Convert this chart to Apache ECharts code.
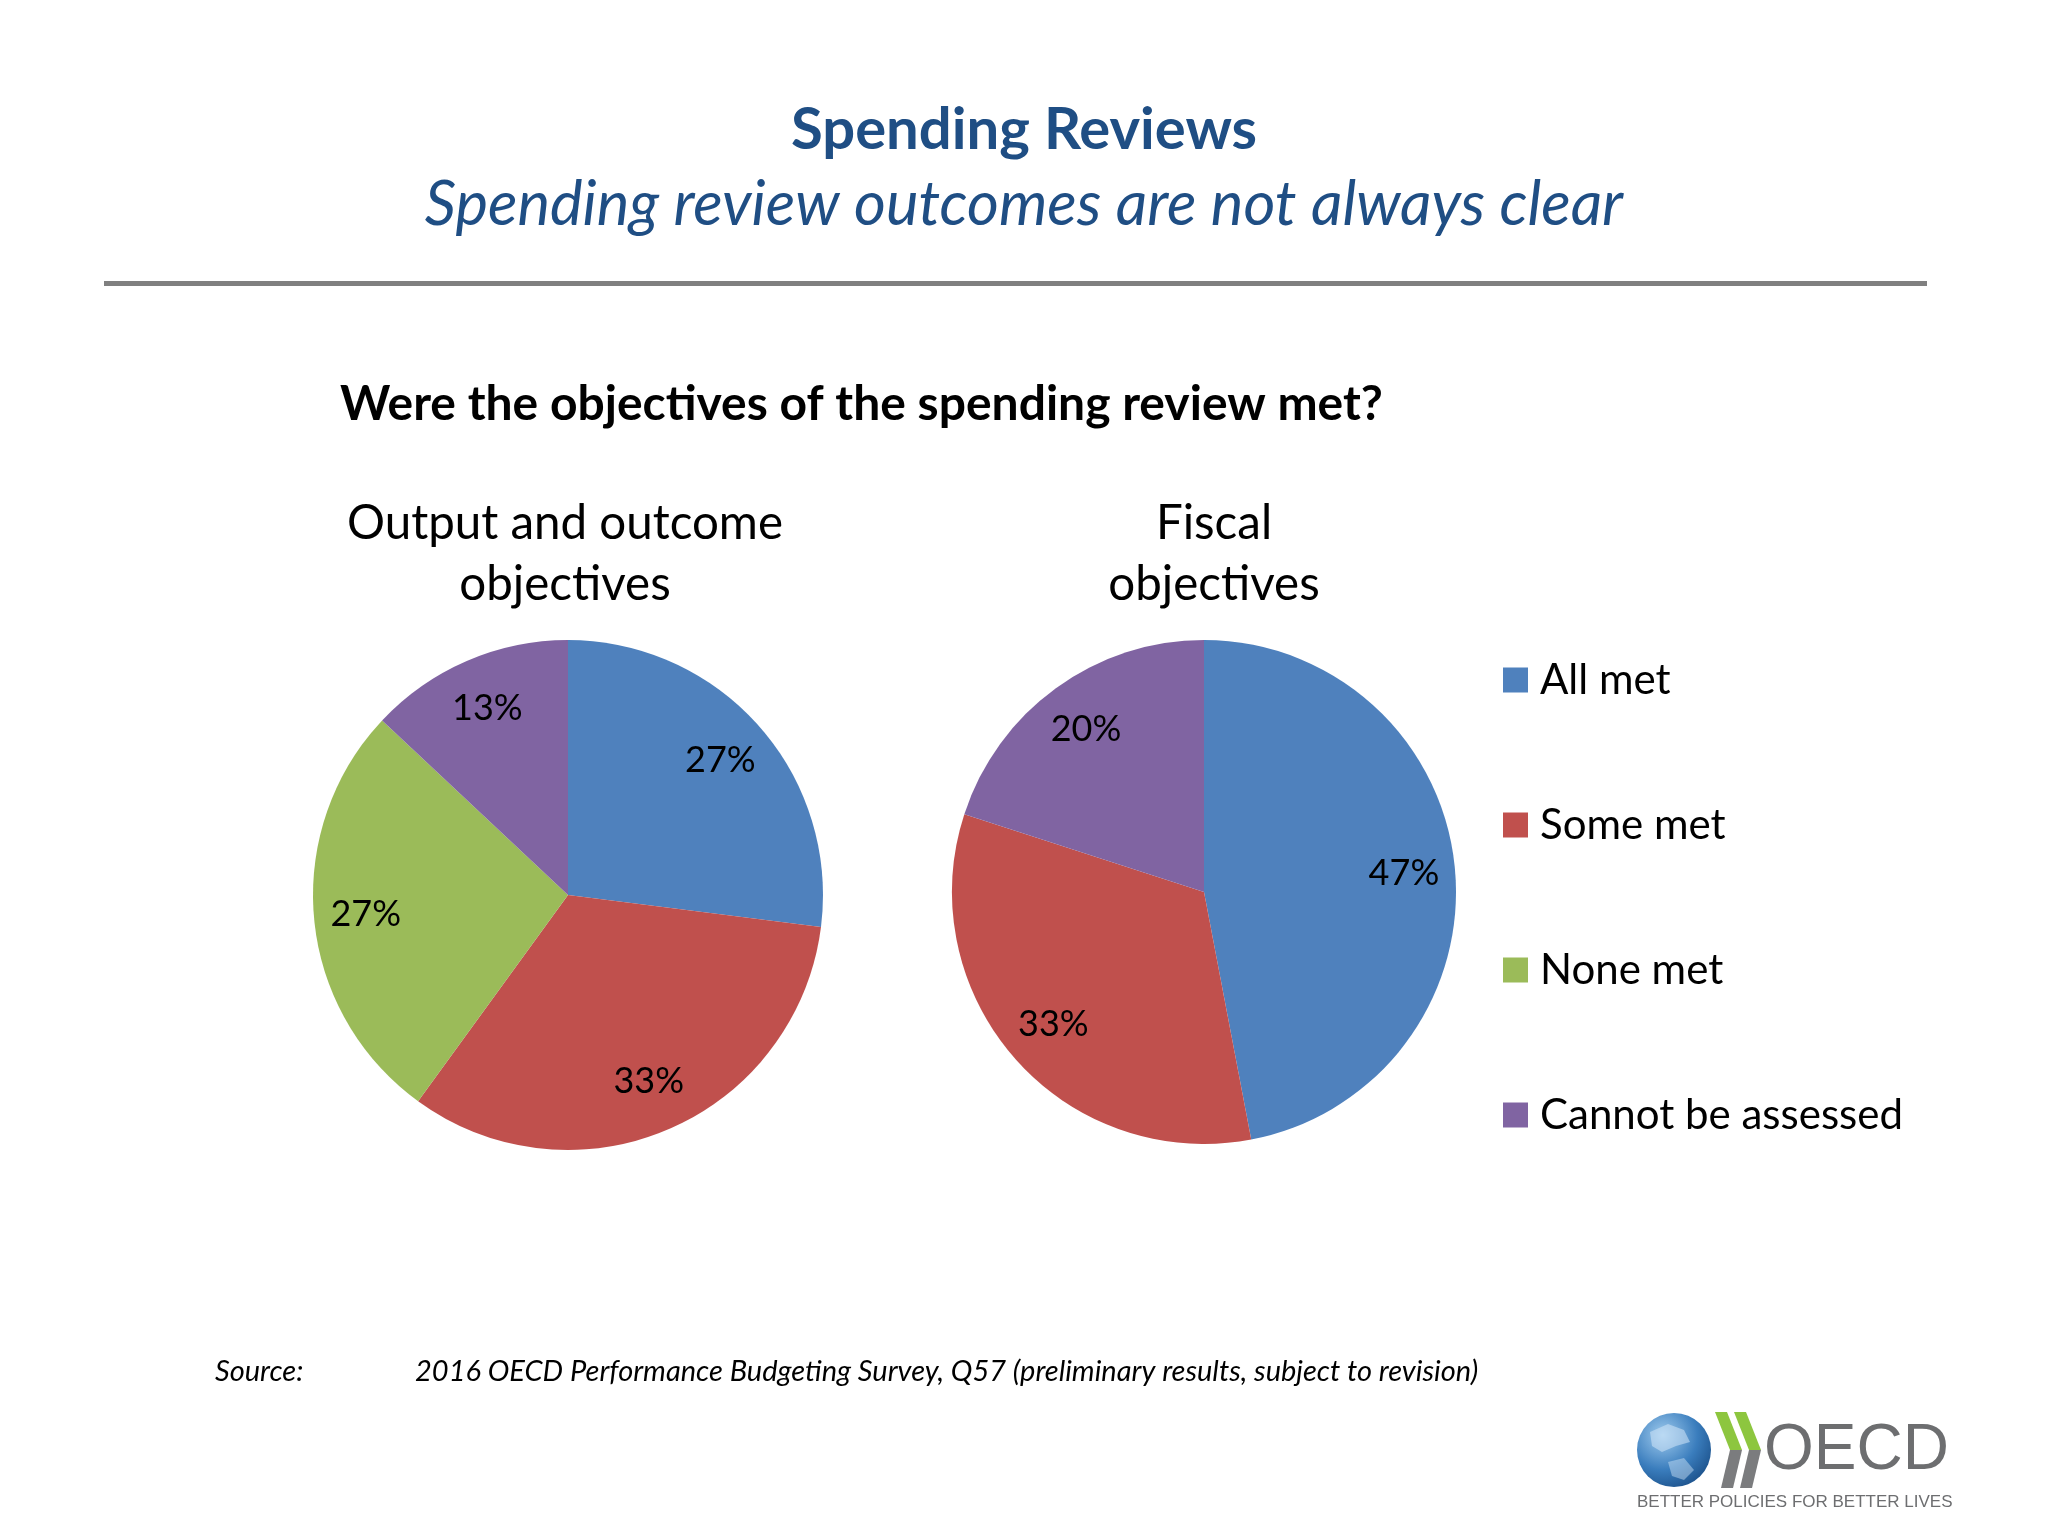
<!DOCTYPE html>
<html><head><meta charset="utf-8">
<script src="https://cdn.jsdelivr.net/npm/echarts@6/dist/echarts.min.js"></script>
<style>html,body{margin:0;padding:0;background:#fff}#c{width:2048px;height:1536px}</style>
</head><body><div id="c"></div>
<script>
const categories = ['All met', 'Some met', 'None met', 'Cannot be assessed'];
const outputValues = [27, 33, 27, 13];
const fiscalValues = [47, 33, 0, 20];
const colors = ['#4F81BD', '#C0504D', '#9BBB59', '#8064A2'];
const pieTitles = ['Output and outcome\nobjectives', 'Fiscal\nobjectives'];
const titleText = 'Spending Reviews';
const subtitleText = 'Spending review outcomes are not always clear';
const questionText = 'Were the objectives of the spending review met?';
const sourceLabel = 'Source:';
const sourceText = '2016 OECD Performance Budgeting Survey, Q57 (preliminary results, subject to revision)';

const FONT = 'Lato, "Open Sans", sans-serif';
const chart = echarts.init(document.getElementById('c'), null, {renderer: 'canvas'});

function makeData(vals, transparent) {
  return categories.map((n, i) => ({
    name: n, value: vals[i],
    itemStyle: {color: transparent ? 'rgba(0,0,0,0)' : colors[i], borderWidth: 0}
  }));
}
function pieSeries(vals, center, r) {
  const common = {type: 'pie', center: center, startAngle: 90, clockwise: true, silent: true,
    animation: false, avoidLabelOverlap: false, emphasis: {disabled: true},
    labelLine: {show: false}};
  return [
    Object.assign({}, common, {radius: [0, r], data: makeData(vals, false), label: {show: false}}),
    Object.assign({}, common, {radius: [r * 0.57, r], data: makeData(vals, true), z: 3,
      label: {show: true, position: 'inside', formatter: p => p.value ? p.value + '%' : '',
        fontFamily: FONT, fontSize: 36, color: '#000'}})
  ];
}

function chevron(dx) {
  return [
    {type: 'polygon', shape: {points: [[1715 + dx, 1412], [1727 + dx, 1412], [1742 + dx, 1450], [1730 + dx, 1450]]}, style: {fill: '#8dc63f'}, silent: true},
    {type: 'polygon', shape: {points: [[1730 + dx, 1450], [1742 + dx, 1450], [1733 + dx, 1488], [1721 + dx, 1488]]}, style: {fill: '#7b7c7e'}, silent: true}
  ];
}

const option = {
  backgroundColor: '#ffffff',
  animation: false,
  legend: {
    orient: 'vertical', left: 1498, top: 650,
    icon: 'rect', itemWidth: 25, itemHeight: 25, itemGap: 95,
    selectedMode: false,
    textStyle: {fontFamily: FONT, fontSize: 42, color: '#000', lineHeight: 50, padding: [0, 0, 0, 7]},
    data: categories.map((n, i) => ({name: n, itemStyle: {color: colors[i]}}))
  },
  series: [].concat(
    pieSeries(outputValues, [568, 895], 255),
    pieSeries(fiscalValues, [1204, 892], 252)
  ),
  graphic: {elements: [
    {type: 'text', x: 1024, y: 130, silent: true, style: {text: titleText, fontFamily: FONT, fontWeight: 'bold', fontSize: 58, fill: '#1f4e84', align: 'center', verticalAlign: 'middle'}},
    {type: 'text', x: 1024, y: 205, silent: true, style: {text: subtitleText, fontFamily: FONT, fontStyle: 'italic', fontSize: 61.5, fill: '#1f4e84', align: 'center', verticalAlign: 'middle'}},
    {type: 'rect', silent: true, shape: {x: 104, y: 281, width: 1823, height: 5}, style: {fill: '#808080'}},
    {type: 'text', x: 340, y: 405, silent: true, style: {text: questionText, fontFamily: FONT, fontWeight: 'bold', fontSize: 48, fill: '#000', align: 'left', verticalAlign: 'middle'}},
    {type: 'text', x: 565, y: 554, silent: true, style: {text: pieTitles[0], fontFamily: FONT, fontSize: 47.5, lineHeight: 61, fill: '#000', align: 'center', verticalAlign: 'middle'}},
    {type: 'text', x: 1214, y: 554, silent: true, style: {text: pieTitles[1], fontFamily: FONT, fontSize: 47.5, lineHeight: 61, fill: '#000', align: 'center', verticalAlign: 'middle'}},
    {type: 'text', x: 215, y: 1372, silent: true, style: {text: sourceLabel, fontFamily: FONT, fontStyle: 'italic', fontSize: 29, fill: '#000', align: 'left', verticalAlign: 'middle'}},
    {type: 'text', x: 415, y: 1372, silent: true, style: {text: sourceText, fontFamily: FONT, fontStyle: 'italic', fontSize: 29, fill: '#000', align: 'left', verticalAlign: 'middle'}},
    {type: 'circle', silent: true, shape: {cx: 1674, cy: 1450, r: 37},
      style: {fill: new echarts.graphic.RadialGradient(0.35, 0.3, 0.85, [
        {offset: 0, color: '#9fcbee'}, {offset: 0.55, color: '#3a7dbd'}, {offset: 1, color: '#15477f'}])}},
    {type: 'polygon', silent: true, shape: {points: [[1650, 1432], [1668, 1424], [1684, 1430], [1690, 1442], [1676, 1446], [1662, 1452], [1652, 1446]]}, style: {fill: 'rgba(210,230,248,0.55)'}},
    {type: 'polygon', silent: true, shape: {points: [[1668, 1462], [1684, 1458], [1694, 1470], [1684, 1480], [1672, 1476]]}, style: {fill: 'rgba(210,230,248,0.45)'}},
  ].concat(chevron(0), chevron(19), [
    {type: 'text', x: 1764, y: 1451, silent: true, style: {text: 'OECD', fontFamily: '"Liberation Sans", Arial, sans-serif', fontSize: 64, fill: '#6d6e70', align: 'left', verticalAlign: 'middle'}},
    {type: 'text', x: 1637, y: 1502, silent: true, style: {text: 'BETTER POLICIES FOR BETTER LIVES', fontFamily: '"Liberation Sans", Arial, sans-serif', fontSize: 17, fill: '#6d6e70', align: 'left', verticalAlign: 'middle'}}
  ])}
};
chart.setOption(option);
</script>
</body></html>
